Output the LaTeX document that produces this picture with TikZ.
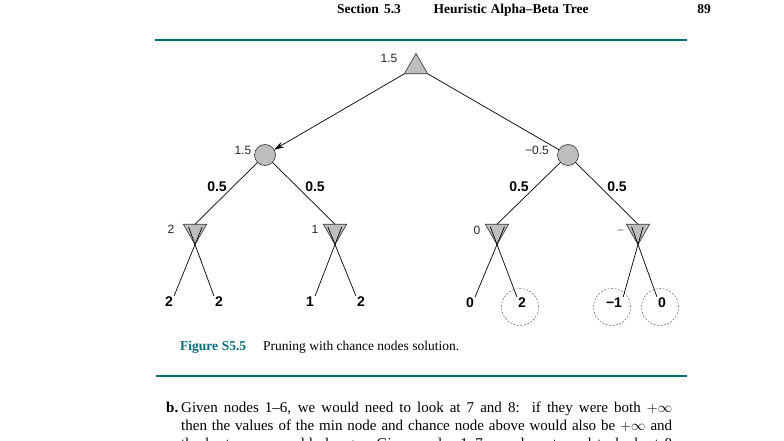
\documentclass[tikz,border=0pt]{standalone}
\usepackage{fontspec}
\setmainfont{Liberation Serif}
\newfontfamily\lsans{Liberation Sans}
\usetikzlibrary{shapes.geometric,arrows.meta,calc}
\definecolor{tealc}{RGB}{0,110,120}
\definecolor{nodegray}{RGB}{190,190,190}
\begin{document}
\begin{tikzpicture}[x=1pt,y=-1pt,
  maxnode/.style={regular polygon, regular polygon sides=3, minimum size=27pt, inner sep=0pt, outer sep=0pt, draw=black!80, fill=nodegray, line width=0.6pt},
  minnode/.style={maxnode, shape border rotate=180},
  chance/.style={circle, minimum size=21pt, inner sep=0pt, outer sep=0pt, draw=black!80, fill=nodegray, line width=0.6pt},
  val/.style={font=\lsans\fontsize{12}{12}\selectfont, text=black!85, inner sep=0pt},
  prob/.style={font=\lsans\bfseries\fontsize{14}{14}\selectfont, inner sep=0pt},
  leaf/.style={font=\lsans\bfseries\fontsize{14}{14}\selectfont, inner sep=1pt},
  pruned/.style={circle, draw=black!60, line width=0.5pt, dash pattern=on 2pt off 1.5pt, minimum size=37pt, inner sep=0pt},
  edge/.style={line width=0.7pt},
  rulel/.style={draw=tealc, line width=2pt},
  hdr/.style={font=\bfseries\fontsize{13.5}{15}\selectfont, inner sep=0pt, anchor=base},
  body/.style={font=\fontsize{15}{17}\selectfont, inner sep=0pt, anchor=base west},
]
\useasboundingbox (0,0) rectangle (784,441);
\clip (0,0) rectangle (784,441);

% header
\node[hdr] (sec) at (369,14) {\makebox[64pt][s]{Section 5.3}};
\node[hdr] (ttl) at (511,14) {\makebox[155pt][s]{Heuristic Alpha–Beta Tree}};
\node[hdr] (pg) at (704,14) {89};
\draw[rulel] (155,40.5) -- (687,40.5);

% labels behind nodes
\node[val] (lroot) at (389,58) {1.5};
\node[val] (lcl) at (243,150) {1.5};
\node[val] (lcr) at (537,150) {−0.5};
\node[val] (lm1) at (171,229) {2};
\node[val] (lm2) at (315,229) {1};
\node[val] (lm3) at (477,230) {0};
\node[val,anchor=east,text=black!55] (lm4) at (640,230) {−\hspace{9pt}1};

% tree nodes
\node[maxnode] (root) at (416,67) {};
\node[chance] (cl) at (265,155) {};
\node[chance] (cr) at (568,155) {};
\node[minnode] (m1) at (195,231) {};
\node[minnode] (m2) at (335,231) {};
\node[minnode] (m3) at (497,231) {};
\node[minnode] (m4) at (638,231) {};

\foreach \m in {m1,m2,m3,m4}{\coordinate (\m ap) at ($(\m.center)+(0,13.5)$);}

% connectors
\draw[edge,-{Stealth[length=10pt,width=6pt]}] (root) -- (cl);
\draw[edge] (root) -- (cr);
\draw[edge] (cl) -- (m1.north);
\draw[edge] (cl) -- (m2.north);
\draw[edge] (cr) -- (m3.north);
\draw[edge] (cr) -- (m4.north);

% probabilities
\node[prob] (p1) at (217,187) {0.5};
\node[prob] (p2) at (315,187) {0.5};
\node[prob] (p3) at (519,187) {0.5};
\node[prob] (p4) at (617,187) {0.5};

% pruned circles
\node[pruned] (c6) at (520,307) {};
\node[pruned] (c7) at (612,307) {};
\node[pruned] (c8) at (660,307) {};

% leaves
\node[leaf] (l1) at (169,302) {2};
\node[leaf] (l2) at (219,302) {2};
\node[leaf] (l3) at (310,302) {1};
\node[leaf] (l4) at (361,302) {2};
\node[leaf] (l5) at (470,303) {0};
\node[leaf] (l6) at (522,303) {2};
\node[leaf] (l7) at (614,303) {−1};
\node[leaf] (l8) at (662,303) {0};

\draw[edge] (l1.north east) -- ($(l1.north east)!1.34!(m1ap)$);
\draw[edge] (l2.north west) -- ($(l2.north west)!1.34!(m1ap)$);
\draw[edge] (l3.north east) -- ($(l3.north east)!1.34!(m2ap)$);
\draw[edge] (l4.north west) -- ($(l4.north west)!1.34!(m2ap)$);
\draw[edge] (l5.north east) -- ($(l5.north east)!1.34!(m3ap)$);
\draw[edge] (l6.north west) -- ($(l6.north west)!1.34!(m3ap)$);
\draw[edge] (l7.north east) -- ($(l7.north east)!1.34!(m4ap)$);
\draw[edge] (l8.north west) -- ($(l8.north west)!1.34!(m4ap)$);

% caption
\node[body,font=\bfseries\fontsize{13.5}{15}\selectfont,text=tealc] (fig) at (180,350) {\makebox[66pt][s]{Figure S5.5}};
\node[body,font=\fontsize{13.5}{15}\selectfont] (cap) at (263,350) {\makebox[196pt][s]{Pruning with chance nodes solution.}};
\draw[rulel] (156,376) -- (687,376);

% body text
\node[body,font=\bfseries\fontsize{15}{17}\selectfont] (bb) at (166,412) {b.};
\node[body] (t1) at (181,412) {\makebox[491pt][s]{Given nodes 1–6, we would need to look at 7 and 8:\ \ if they were both $+\infty$}};
\node[body] (t2) at (181,430) {\makebox[491pt][s]{then the values of the min node and chance node above would also be $+\infty$ and}};
\node[body] (t3) at (181,448) {\makebox[491pt][s]{the best move would change. Given nodes 1–7, we do not need to look at 8}};
\end{tikzpicture}
\end{document}
